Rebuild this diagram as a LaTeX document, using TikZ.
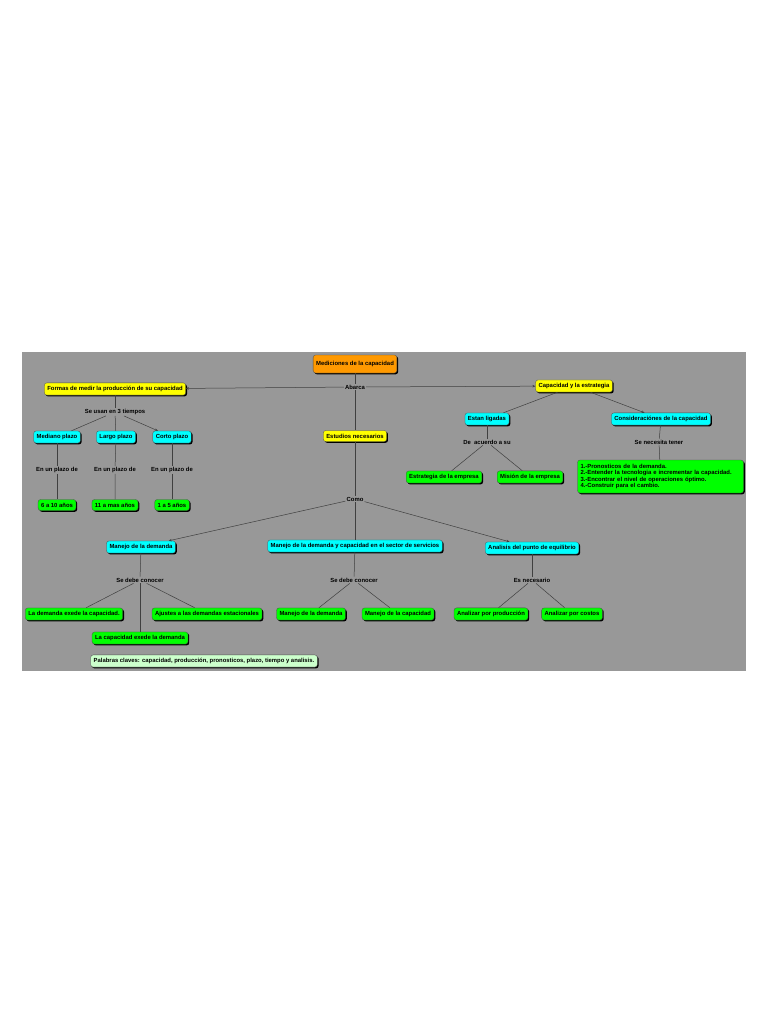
\documentclass[tikz,border=0pt]{standalone}
\usepackage{fontspec}
\setmainfont{Liberation Sans}
\usetikzlibrary{shadows,arrows.meta}
\definecolor{bg}{HTML}{989898}
\definecolor{cy}{HTML}{00FFFF}
\definecolor{gr}{HTML}{00FF00}
\definecolor{ye}{HTML}{FFFF00}
\definecolor{or}{HTML}{FF9900}
\definecolor{lg}{HTML}{CCFFCC}
\begin{document}
\begin{tikzpicture}[x=1pt,y=-1pt,
  box/.style={draw=black!70,line width=0.3pt,rounded corners=2.5pt,font=\fontsize{5.9}{6.6}\selectfont\bfseries,inner xsep=3pt,minimum height=11pt,drop shadow={shadow xshift=1.3pt,shadow yshift=-1.3pt,fill=black,opacity=1}},
  cyb/.style={box,fill=cy},
  grb/.style={box,fill=gr},
  yeb/.style={box,fill=ye},
  lbl/.style={font=\fontsize{5.9}{6.6}\selectfont\bfseries,inner sep=1pt,fill=bg},
  ln/.style={draw=black!75,line width=0.5pt},
  ar/.style={ln,-{Stealth[length=3pt,width=2.5pt]}}]
\useasboundingbox (0,0) rectangle (768,1024);
\fill[bg] (22,352) rectangle (746,671);
% nodes
\node[box,fill=or,minimum height=18pt] (t) at (355,364) {Mediciones de la capacidad};
\node[lbl] (ab) at (355,387) {Abarca};
\node[yeb] (fo) at (115,389) {Formas de medir la producción de su capacidad};
\node[yeb] (ce) at (574,386) {Capacidad y la estrategia};
\node[lbl] (su) at (115,412) {Se usan en 3 tiempos};
\node[cyb] (me) at (57,437) {Mediano plazo};
\node[cyb] (la) at (116,437) {Largo plazo};
\node[cyb] (co) at (172,437) {Corto plazo};
\node[lbl] (p1) at (57,470) {En un plazo de};
\node[lbl] (p2) at (115,470) {En un plazo de};
\node[lbl] (p3) at (172,470) {En un plazo de};
\node[grb] (a1) at (57,505) {6 a 10 años};
\node[grb] (a2) at (115,505) {11 a mas años};
\node[grb] (a3) at (172,505) {1 a 5 años};
\node[yeb] (es) at (355,436) {Estudios necesarios};
\node[lbl] (como) at (355,499) {Como};
\node[cyb] (el) at (487,419) {Estan ligadas};
\node[cyb] (cc) at (661,419) {Consideraciónes de la capacidad};
\node[lbl] (de) at (487,442) {De\ \ acuerdo a su};
\node[lbl] (sn) at (659,442) {Se necesita tener};
\node[grb] (ee) at (444,477) {Estrategia de la empresa};
\node[grb] (mi) at (530,477) {Misión de la empresa};
\node[grb,align=left,text width=160pt,minimum height=33pt,inner ysep=2pt] (li) at (660.5,476.5) {1.-Pronosticos de la demanda.\\2.-Entender la tecnologia e incrementar la capacidad.\\3.-Encontrar el nivel de operaciones óptimo.\\4.-Construir para el cambio.};
\node[cyb] (md) at (141,547) {Manejo de la demanda};
\node[cyb] (ms) at (355,546) {Manejo de la demanda y capacidad en el sector de servicios};
\node[cyb] (an) at (532,548) {Analisis del punto de equilibrio};
\node[lbl] (s1) at (140,580) {Se debe conocer};
\node[lbl] (s2) at (354,580) {Se debe conocer};
\node[lbl] (en) at (532,580) {Es necesario};
\node[grb] (d1) at (74,614) {La demanda exede la capacidad.};
\node[grb] (d2) at (207,614) {Ajustes a las demandas estacionales};
\node[grb] (d3) at (140,638) {La capacidad exede la demanda};
\node[grb] (m1) at (311,614) {Manejo de la demanda};
\node[grb] (m2) at (398,614) {Manejo de la capacidad};
\node[grb] (z1) at (491,614) {Analizar por producción};
\node[grb] (z2) at (572,614) {Analizar por costos};
\node[box,fill=lg] (pc) at (204,661) {Palabras claves: capacidad, producción, pronosticos, plazo, tiempo y analisis.};
% connectors
\draw[ln] (t) -- (ab); \draw[ar] (ab) -- (fo); \draw[ar] (ab) -- (ce);
\draw[ln] (ab) -- (es);
\draw[ln] (fo) -- (su);
\draw[ln] (su) -- (me); \draw[ln] (su) -- (la); \draw[ar] (su) -- (co);
\draw[ln] (me) -- (p1) -- (a1); \draw[ln] (la) -- (p2) -- (a2); \draw[ln] (co) -- (p3) -- (a3);
\draw[ln] (es) -- (como);
\draw[ar] (como) -- (md); \draw[ln] (como) -- (ms); \draw[ar] (como) -- (an);
\draw[ln] (ce) -- (el); \draw[ar] (ce) -- (cc);
\draw[ln] (el) -- (de); \draw[ln] (de) -- (ee); \draw[ln] (de) -- (mi);
\draw[ln] (cc) -- (sn) -- (li);
\draw[ln] (md) -- (s1); \draw[ln] (s1) -- (d1); \draw[ln] (s1) -- (d2); \draw[ln] (s1) -- (d3);
\draw[ln] (ms) -- (s2); \draw[ln] (s2) -- (m1); \draw[ln] (s2) -- (m2);
\draw[ln] (an) -- (en); \draw[ln] (en) -- (z1); \draw[ln] (en) -- (z2);
\end{tikzpicture}
\end{document}
